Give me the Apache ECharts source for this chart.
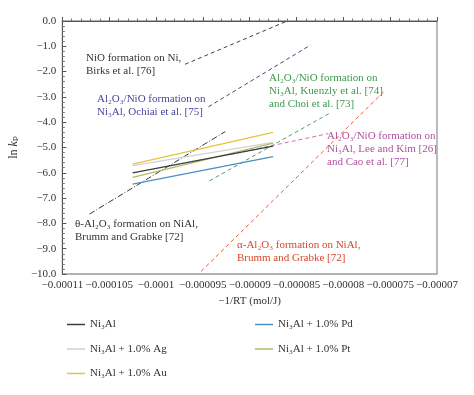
<!DOCTYPE html>
<html><head><meta charset="utf-8">
<script src="https://cdn.jsdelivr.net/npm/echarts@6/dist/echarts.min.js"></script>
<style>html,body{margin:0;padding:0;background:#fff}#c{width:474px;height:395px}</style>
</head><body><div id="c"></div>
<script>
// ---- data ----
const xTickLabels = ['−0.00011','−0.000105','−0.0001','−0.000095','−0.00009','−0.000085','−0.00008','−0.000075','−0.00007'];
const yTickLabels = ['−10.0','−9.0','−8.0','−7.0','−6.0','−5.0','−4.0','−3.0','−2.0','−1.0','0.0'];
const seriesNames = ['Ni₃Al','Ni₃Al + 1.0% Ag','Ni₃Al + 1.0% Au','Ni₃Al + 1.0% Pd','Ni₃Al + 1.0% Pt'];
const fitX = [-0.0001025, -0.0000875];
const ni3alY = [-6.00, -4.95];
const agY = [-5.72, -4.80];
const auY = [-5.66, -4.40];
const pdY = [-6.45, -5.36];
const ptY = [-6.18, -4.83];

const birksX = [-0.0000969, -0.0000860];   const birksY = [-1.71, 0.0];
const ochiaiX = [-0.0000944, -0.0000835];  const ochiaiY = [-3.39, -0.95];
const kuenzlyX = [-0.0000943, -0.0000815]; const kuenzlyY = [-6.32, -3.65];
const leeKimX = [-0.0000921, -0.0000816];  const leeKimY = [-5.28, -4.45];
const alphaX = [-0.0000952, -0.0000755];   const alphaY = [-9.9, -2.73];
const thetaX = [-0.0001071, -0.0000926];   const thetaY = [-7.63, -4.37];

const birksLabel = ['NiO formation on Ni,', 'Birks et al. [76]'];
const ochiaiLabel = ['Al₂O₃/NiO formation on', 'Ni₃Al, Ochiai et al. [75]'];
const kuenzlyLabel = ['Al₂O₃/NiO formation on', 'Ni₃Al, Kuenzly et al. [74]', 'and Choi et al. [73]'];
const leeKimLabel = ['Al₂O₃/NiO formation on', 'Ni₃Al, Lee and Kim [26]', 'and Cao et al. [77]'];
const thetaLabel = ['θ-Al₂O₃ formation on NiAl,', 'Brumm and Grabke [72]'];
const alphaLabel = ['α-Al₂O₃ formation on NiAl,', 'Brumm and Grabke [72]'];

// ---- chart ----
const X_MIN = -0.00011, X_MAX = -0.00007, X_INT = 0.000005;
const FONT = '"Liberation Serif", "DejaVu Serif", serif';
const pts = (xs, ys) => xs.map((x, i) => [x, ys[i]]);

function solid(name, ys, color, z) {
  return { name, type: 'line', data: pts(fitX, ys), symbol: 'none', silent: true, z,
    lineStyle: { color, width: 1.3 }, itemStyle: { color } };
}
function dashed(xs, ys, color, type) {
  return { type: 'line', data: pts(xs, ys), symbol: 'none', silent: true, z: 3,
    lineStyle: { color, width: 1, type } };
}
function label(lines, left, top, color) {
  return { type: 'text', left, top, silent: true,
    style: { text: lines.join('\n'), fill: color, font: '11px ' + FONT, lineHeight: 13 } };
}

const chart = echarts.init(document.getElementById('c'));
chart.setOption({
  animation: false,
  backgroundColor: '#fff',
  grid: { left: 62, right: 37, top: 21, bottom: 121, show: true, borderColor: '#999', borderWidth: 1.3 },
  xAxis: {
    type: 'value', min: X_MIN, max: X_MAX, interval: X_INT,
    name: '−1/RT (mol/J)', nameLocation: 'middle', nameGap: 22,
    nameTextStyle: { fontFamily: FONT, fontSize: 11, color: '#333' },
    axisLine: { lineStyle: { color: '#555' } },
    axisTick: { inside: true, length: 4, lineStyle: { color: '#555' } },
    minorTick: { show: true, splitNumber: 5, length: 2.5, lineStyle: { color: '#777' } },
    splitLine: { show: false },
    axisLabel: { fontFamily: FONT, fontSize: 11, color: '#333', margin: 6,
      formatter: v => xTickLabels[Math.round((v - X_MIN) / X_INT)] }
  },
  yAxis: {
    type: 'value', min: -10, max: 0, interval: 1,
    name: '{a|ln }{b|k}{a|ₚ}', nameLocation: 'middle', nameGap: 33, nameRotate: 90,
    nameTextStyle: { fontFamily: FONT, fontSize: 12, color: '#333',
      rich: { a: { fontFamily: FONT, fontSize: 12, color: '#333' },
              b: { fontFamily: FONT, fontSize: 12, color: '#333', fontStyle: 'italic' } } },
    axisLine: { lineStyle: { color: '#555' } },
    axisTick: { inside: true, length: 4, lineStyle: { color: '#555' } },
    minorTick: { show: true, splitNumber: 5, length: 2.5, lineStyle: { color: '#777' } },
    splitLine: { show: false },
    axisLabel: { fontFamily: FONT, fontSize: 11, color: '#333', margin: 6,
      formatter: v => yTickLabels[Math.round(v + 10)] }
  },
  legend: [
    { data: [seriesNames[0], seriesNames[1], seriesNames[2]], orient: 'vertical', left: 62, top: 314,
      itemGap: 13.5, itemWidth: 18, itemHeight: 1.5, icon: 'rect', selectedMode: false,
      textStyle: { fontFamily: FONT, fontSize: 11, color: '#333' } },
    { data: [seriesNames[3], seriesNames[4]], orient: 'vertical', left: 250, top: 314,
      itemGap: 13.5, itemWidth: 18, itemHeight: 1.5, icon: 'rect', selectedMode: false,
      textStyle: { fontFamily: FONT, fontSize: 11, color: '#333' } }
  ],
  series: [
    dashed(birksX, birksY, '#444', [4, 3]),
    dashed(ochiaiX, ochiaiY, '#46466e', [4, 3]),
    dashed(kuenzlyX, kuenzlyY, '#4fa070', [4, 3]),
    dashed(leeKimX, leeKimY, '#d070b4', [4, 3]),
    dashed(alphaX, alphaY, '#e0603c', [4, 3]),
    dashed(thetaX, thetaY, '#333', [6, 2, 1, 2]),
    solid(seriesNames[1], agY, '#d2d2d2', 4),
    solid(seriesNames[2], auY, '#e6c340', 5),
    solid(seriesNames[4], ptY, '#b2ba6a', 5),
    solid(seriesNames[0], ni3alY, '#3a3d3a', 6),
    solid(seriesNames[3], pdY, '#4b8fc4', 6)
  ],
  graphic: [
    label(birksLabel, 86, 52, '#333'),
    label(ochiaiLabel, 97, 93, '#45459a'),
    label(kuenzlyLabel, 269, 72, '#3c9a50'),
    label(leeKimLabel, 327, 130, '#b050a0'),
    label(thetaLabel, 75, 218, '#333'),
    label(alphaLabel, 237, 239, '#d5472c')
  ]
});
</script></body></html>
